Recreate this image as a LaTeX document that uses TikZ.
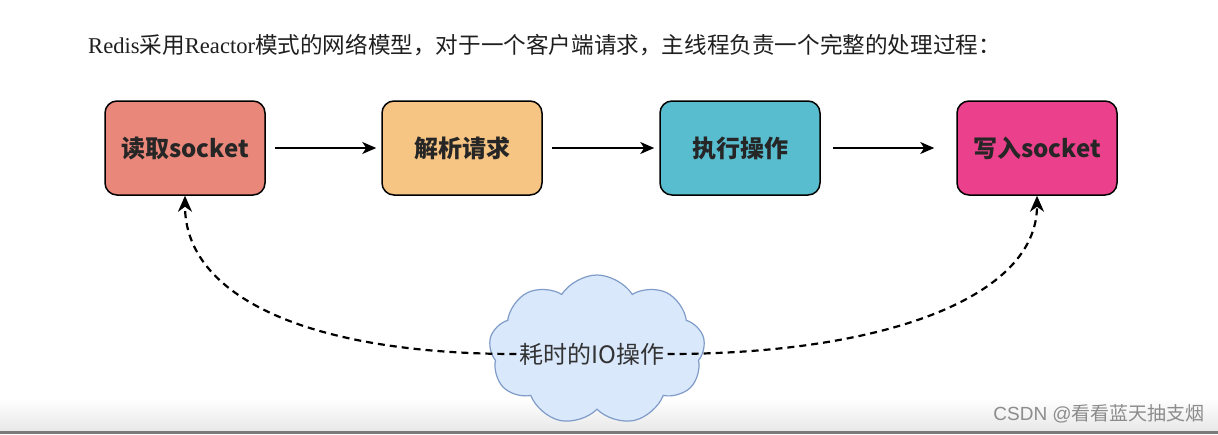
\documentclass[tikz,border=0pt]{standalone}
\usepackage{fontspec}
\setmainfont{Liberation Serif}
\newfontfamily\cjk{Noto Sans CJK SC}
\newfontfamily\lsans{Liberation Sans}
\usetikzlibrary{shapes.symbols,arrows.meta}
\definecolor{cA}{HTML}{E8877A}
\definecolor{cB}{HTML}{F6C483}
\definecolor{cC}{HTML}{57BDCF}
\definecolor{cD}{HTML}{EB408B}
\definecolor{cloudfill}{HTML}{DAE8FC}
\definecolor{cloudline}{HTML}{7F9CC8}
\tikzset{
  stepbox/.style={draw=black, line width=1.5pt, rounded corners=12pt,
    minimum width=160pt, minimum height=94pt, inner sep=0pt,
    font=\cjk\bfseries\fontsize{24}{28}\selectfont, text=black!85},
  flow/.style={line width=1.8pt, -{Stealth[length=14pt,width=12pt,inset=4pt]}},
  io/.style={line width=2.2pt, dash pattern=on 7pt off 5pt,
    -{Stealth[length=16pt,width=14pt,inset=5pt]}},
}
\begin{document}
\begin{tikzpicture}[x=1pt,y=-1pt]
\useasboundingbox (0,0) rectangle (1218,434);
\fill[white] (0,0) rectangle (1218,434);
\shade[top color=white, bottom color=black!9] (0,398) rectangle (1218,431);
\fill[black!52] (0,431) rectangle (1218,434);

\node[anchor=base west, inner sep=0pt, text=black!88,
  font=\fontsize{22.6}{26}\selectfont] (title) at (88,53)
  {Redis{\cjk 采用}Reactor{\cjk 模式的网络模型，对于一个客户端请求，主线程负责一个完整的处理过程：}};

\node[stepbox, fill=cA] (b1) at (185,148) {读取socket};
\node[stepbox, fill=cB] (b2) at (462,148) {解析请求};
\node[stepbox, fill=cC] (b3) at (740,148) {执行操作};
\node[stepbox, fill=cD] (b4) at (1037,148) {写入socket};

\draw[flow, shorten <=9pt, shorten >=5pt] (b1) -- (b2);
\draw[flow, shorten <=9pt, shorten >=5pt] (b2) -- (b3);
\draw[flow, shorten <=12pt, shorten >=22pt] (b3) -- (b4);

\node[cloud, cloud puffs=9, cloud puff arc=115, aspect=1.45,
  draw=cloudline, line width=1.2pt, fill=cloudfill,
  minimum width=216pt, minimum height=150pt, inner sep=0pt] (cl) at (597,350) {};
\node[font=\cjk\fontsize{24}{28}\selectfont, text=black!80, inner sep=3pt] (iot) at (592,354) {耗时的IO操作};

\draw[io] (iot.west) .. controls +(-210,0) and +(0,100) .. (b1.south);
\draw[io] (iot.east) .. controls +(220,0) and +(0,100) .. (b4.south);

\node[anchor=east, inner sep=0pt, text=black!45,
  font=\fontsize{19}{22}\selectfont] (wm) at (1205,414)
  {{\lsans CSDN @}{\cjk 看看蓝天抽支烟}};
\end{tikzpicture}
\end{document}
